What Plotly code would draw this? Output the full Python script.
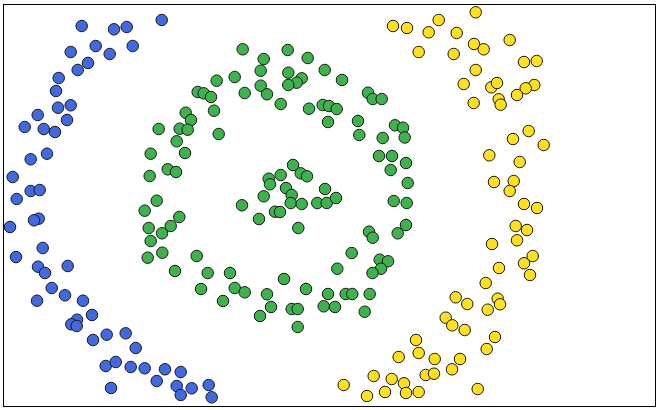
import plotly.graph_objects as go

blue_x = [81.7, 114, 126.7, 161.7, 70.7, 95.7, 109.7, 132.7, 88, 77.7, 58.7, 56, 58, 70.7, 37.7, 67, 24.7, 43.7, 55,
          47, 30.7, 12.7, 30.7, 39.7, 16.7, 38.7, 34, 10, 42.7, 16, 38, 45, 67.7,
          51.7, 65, 37, 83, 92, 77, 71.3, 76.7, 93, 106.7, 125.7, 135.7, 105.7, 115.7, 130.7, 144.7, 165, 156.7, 111,
          180.7, 176.7, 191.7, 180.7, 208.7, 211.7]
blue_y = [26, 29.3, 27, 20, 52, 46, 54, 46, 63, 70, 78, 91, 107.7, 105.3, 115, 120, 127, 129, 132,
          153.7, 159.3, 177, 191, 190, 199, 218.7, 220.3, 227, 248, 257, 266.7, 273, 266,
          288, 295.3, 300.7, 300.7, 315, 319.7, 324.3, 326, 340, 334.7, 333.3, 348, 366, 362, 367, 368.3, 369.3, 381, 388,
          372, 386, 388.3, 395, 385, 397.3]

green_x = [242.7, 287.7, 263.7, 307.7, 260.7, 288.3, 324.7, 216.7, 234.7, 301.7, 296.7, 288.3, 260.7, 197.7, 203.7,
           211, 244.7, 267, 280.7, 309, 322.7, 329, 328, 214, 185.7, 191, 179.7, 187.7, 218.7,
           158.7,
           342, 368, 372.7, 381.7, 336.7, 358, 395, 403, 359.3, 382.7, 404.7,
           150.7, 167.7, 149.7, 156.7, 144.7, 148.7, 162, 150.7, 147.7, 162.3,
           176.7, 185, 176, 293, 280.7, 268.7, 300.7, 307, 270, 286, 325, 291.7, 263.7, 242, 290.7, 301.7, 317.3,
           326.7, 275, 280, 259, 179.3, 170.7, 298.3, 196.7, 175, 207.7, 230,
           379, 392, 406, 390.7, 407.7, 336, 393.7, 406.7, 406, 369, 372.7, 397.7, 351.7, 379.7, 388, 381, 372.5, 337.3,
           284, 201, 234.7, 244.7, 267, 306, 328, 223, 271, 260, 291.7, 297.7, 323.7, 297.7,
           345.7, 352.3, 369.7, 335, 364.7]
green_y = [49.3, 50, 59, 58, 70.7, 72.7, 70, 80.7, 77, 78.3, 82.7, 85, 85.7, 92, 93.3,
           97, 93, 94.3, 104, 108.7, 105, 106, 122, 110.7, 112.7, 120, 128.7, 129.7, 134,
           129,
           80, 92.7, 99, 99, 109, 121, 125.3, 127.7, 135, 138, 137.5,
           153.7, 169.3, 176, 200.7, 210.7, 228, 233.3, 241, 257.7, 252.7,
           141.3, 153, 172, 165, 175, 178.7, 173.3, 176.3, 184.3, 188, 189, 195, 196.3, 205.3, 203, 204, 203,
           203, 211.7, 212, 219, 217, 226, 228, 256, 271, 273, 273,
           156, 156, 163, 170, 183, 198, 201, 203, 225, 231.7, 237.7, 233.3, 253, 259.7, 261.3, 268.7, 273, 268.7,
           279, 289, 288, 292.3, 294.3, 289, 294, 301, 307, 316, 309, 309, 306.3, 327,
           294, 294, 294, 307, 311.7]

yellow_x = [475.7, 438.7, 393, 407, 428.7, 456.7, 474, 483.7, 418.7, 453.7, 475.7, 463.7, 491.3, 497, 498.7, 473.7,
            509.7, 524, 536.7, 534.3, 525.7, 517, 500.7, 528.7, 513,
            489.3, 543.7, 519.7, 494, 513.7, 509.7, 524, 537, 515.7, 527, 517, 492, 532.7, 524, 499, 530,
            485.7, 455.7, 467.3, 497.7, 500, 487.7, 445.7, 452.3, 464.7, 495, 486.7, 416, 418.7, 398.7, 434.7, 460,
            452, 373.7, 391.7, 404, 425.7, 434, 343.7, 367, 385, 406, 418.7, 477.7]
yellow_y = [12.3, 20, 26, 28, 32.3, 33, 44, 49.3, 52, 54, 70, 84, 87.3, 83, 99.3, 103,
            40, 62, 61, 85, 88.3, 95, 104.7, 131, 139,
            155.3, 145, 162, 182, 181, 191, 204, 208, 226, 230, 240.3, 244, 256, 263.3, 268, 275,
            283, 297.3, 304, 298.7, 304.3, 309.7, 317.7, 325.3, 330, 337, 349, 340, 353, 357, 359, 359,
            369.3, 376, 379, 383.3, 375, 373.7, 385, 396, 392, 393, 392, 389]

fig = go.Figure()
for xs, ys, col in [(blue_x, blue_y, "#4169E1"), (green_x, green_y, "#3CB44B"), (yellow_x, yellow_y, "#FFE119")]:
    fig.add_trace(go.Scatter(x=xs, y=ys, mode="markers",
                             marker=dict(size=11.5, color=col, line=dict(color="#1a1a1a", width=1)),
                             showlegend=False, hoverinfo="skip"))

axis_common = dict(showgrid=False, zeroline=False, showticklabels=False, ticks="",
                   showline=True, mirror=True, linecolor="black", linewidth=1)
fig.update_layout(
    width=660, height=410,
    margin=dict(l=4, r=5, t=5, b=4),
    paper_bgcolor="white", plot_bgcolor="white",
    xaxis=dict(range=[4, 655], **axis_common),
    yaxis=dict(range=[406, 5], **axis_common),
)
fig.write_html("out.html", config={"displayModeBar": False},
               post_script="document.body.style.margin='0px';")
